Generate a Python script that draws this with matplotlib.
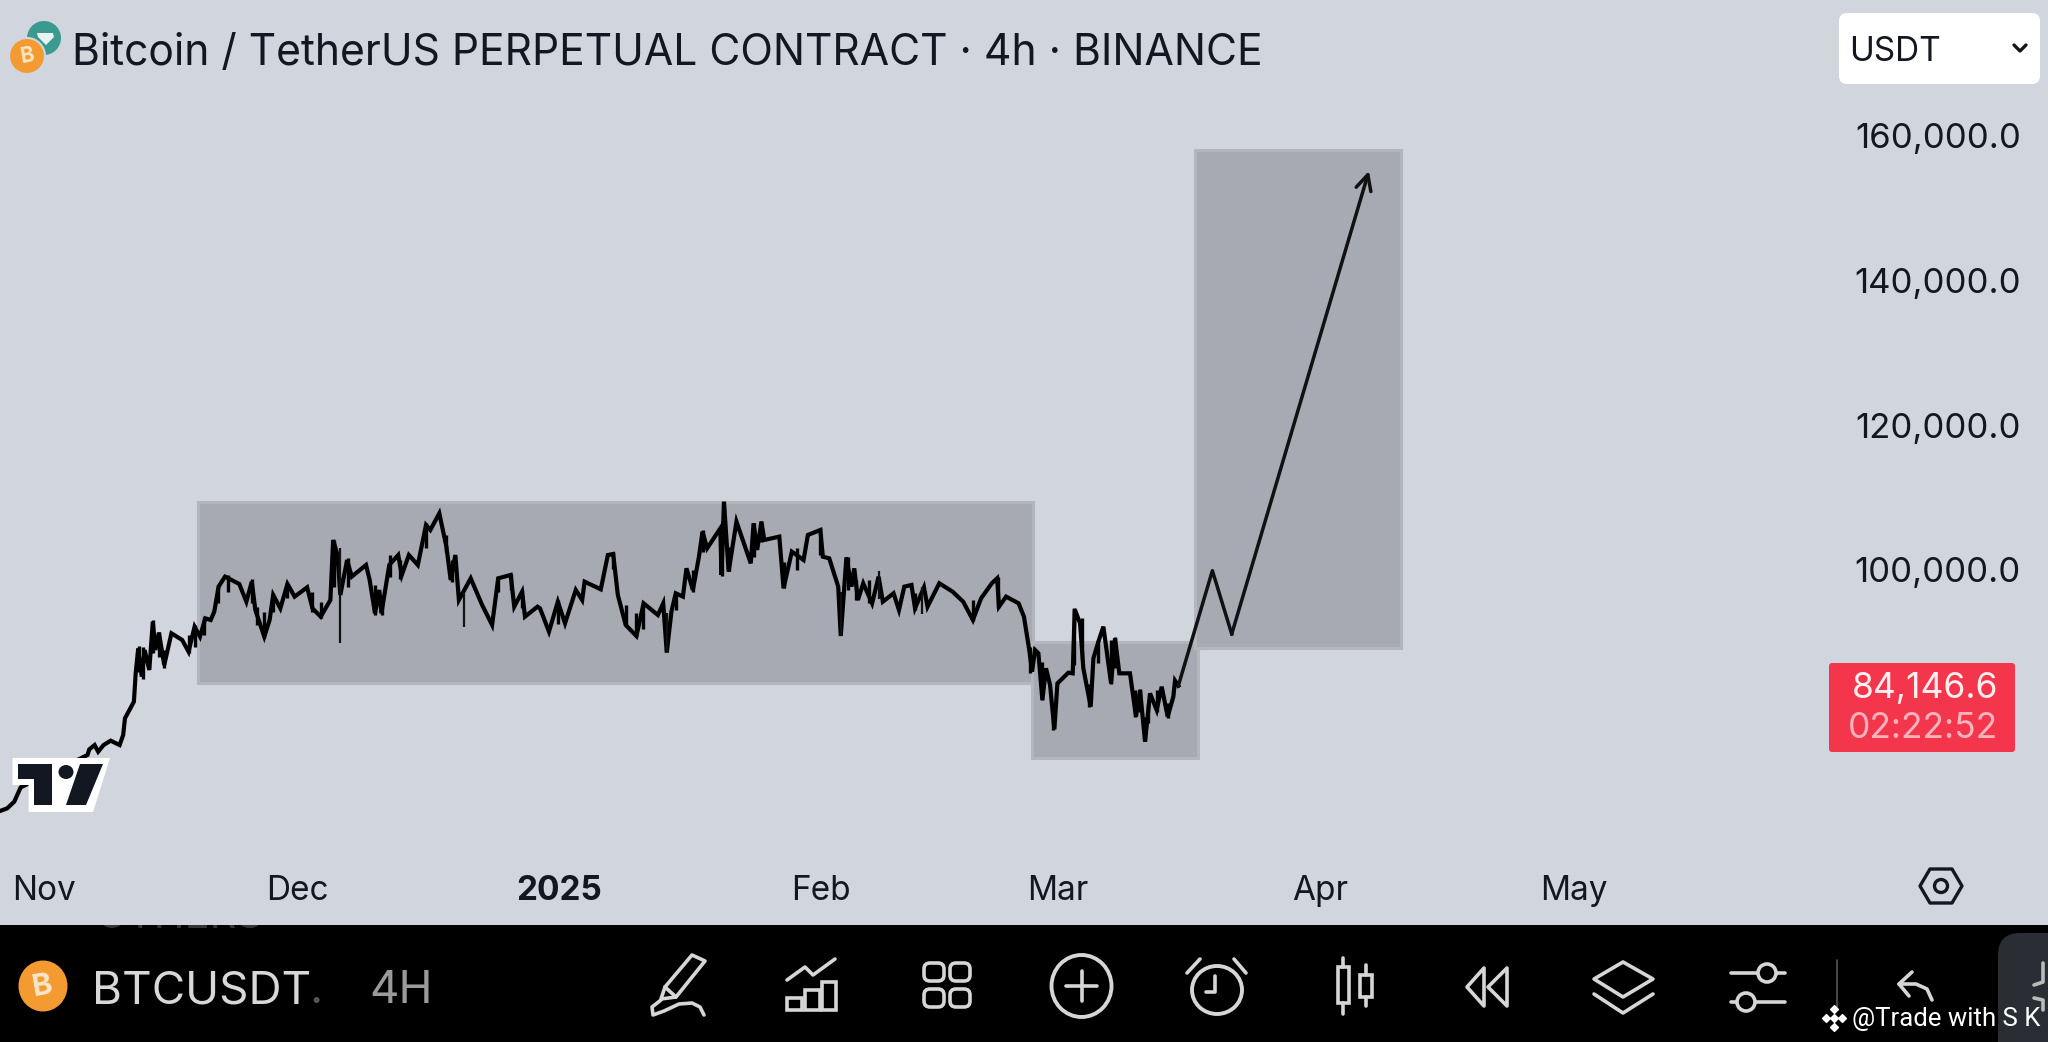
import matplotlib
matplotlib.use('Agg')
import matplotlib.pyplot as plt
from matplotlib.patches import Rectangle, Circle, Ellipse, Polygon, FancyBboxPatch

plt.rcParams['font.family'] = ['Inter', 'DejaVu Sans']

# days since 1 Nov 2024, price in thousands of USDT
days = [-5.21, -4.36, -3.52, -2.76, 5.15, 5.36, 5.99, 6.41, 7.05, 7.89, 8.95, 9.37, 9.58, 10.64, 10.85, 11.15,
        11.57, 11.91, 12.46, 12.88, 13.18, 13.60, 14.23, 15.08, 16.35, 17.11, 17.82, 18.46, 19.09, 19.73, 20.15,
        20.66, 21.42, 23.11, 23.95, 24.59, 25.01, 26.07, 26.70, 27.12, 27.97, 28.81, 29.66, 31.14, 31.77, 32.75,
        33.89, 34.22, 34.73, 35.07, 35.87, 36.42, 38.11, 38.54, 39.17, 39.68, 39.93, 40.86, 41.92, 42.34, 43.18,
        44.24, 45.21, 45.72, 46.78, 47.62, 48.13, 48.68, 49.10, 50.50, 51.85, 53.03, 53.75, 55.23, 55.65, 56.58,
        56.92, 58.40, 58.70, 59.76, 60.81, 61.66, 62.93, 63.69, 63.98, 65.89, 66.73, 67.36, 67.91, 68.84, 70.11,
        70.96, 72.65, 73.28, 73.70, 74.25, 74.76, 75.61, 76.03, 76.79, 77.51, 77.93, 78.48, 80.04, 80.17, 80.47,
        81.02, 81.95, 83.64, 83.97, 84.40, 84.90, 85.24, 87.02, 87.52, 88.50, 89.89, 90.40, 91.88, 92.17, 92.93,
        93.99, 94.29, 94.96, 95.56, 95.89, 96.32, 96.95, 98.00, 98.77, 99.27, 100.54, 101.18, 101.81, 102.66,
        103.08, 104.14, 104.56, 105.95, 107.52, 108.78, 109.93, 110.90, 112.17, 112.80, 113.01, 113.86, 115.34,
        115.97, 116.60, 116.93, 117.28, 117.68, 118.15, 118.58, 119.06, 119.57, 119.93, 121.23, 121.74, 121.98,
        122.61, 123.00, 123.87, 124.19, 124.78, 125.37, 126.28, 126.75, 127.26, 128.52, 129.23, 129.71, 130.30,
        130.89, 131.68, 132.27, 132.98, 133.65, 133.85, 134.24]
prices = [66.69, 67.06, 67.98, 69.96, 74.43, 75.21, 75.81, 74.89, 75.81, 76.41, 75.81, 77.20, 79.50, 81.80, 85.72, 89.17,
          85.26, 88.94, 86.18, 92.86, 88.94, 91.34, 86.87, 91.25, 90.33, 88.71, 92.17, 90.79, 93.32, 93.09, 94.24,
          97.70, 99.08, 98.07, 95.62, 98.39, 94.47, 90.79, 93.09, 96.55, 94.70, 98.07, 96.32, 97.60, 94.70, 93.55,
          95.85, 104.15, 102.07, 96.55, 101.38, 99.08, 100.69, 98.62, 94.01, 97.24, 94.01, 100.69, 102.07, 99.31, 102.07,
          100.69, 106.22, 105.53, 107.83, 103.23, 98.62, 102.07, 95.85, 98.85, 95.16, 92.40, 98.85, 99.31, 94.93, 97.01,
          93.55, 94.93, 94.70, 91.48, 95.62, 92.63, 97.24, 95.85, 98.39, 97.33, 102.07, 102.21, 96.55, 92.40, 90.88,
          95.39, 93.78, 95.39, 88.58, 94.24, 96.78, 96.32, 100.23, 97.24, 101.84, 105.30, 103.00, 105.76, 99.31, 109.45,
          99.77, 106.68, 100.92, 106.45, 102.77, 106.68, 104.15, 104.61, 97.47, 102.53, 101.38, 104.84, 105.53, 101.84, 101.61,
          97.70, 90.88, 101.75, 97.70, 100.23, 95.85, 98.16, 95.39, 99.08, 95.62, 96.78, 94.47, 97.70, 97.93,
          94.70, 97.60, 94.93, 98.16, 97.01, 95.62, 93.09, 96.09, 98.16, 98.85, 94.93, 96.32, 95.39,
          93.55, 88.94, 85.95, 88.94, 88.48, 82.03, 86.41, 84.11, 77.98, 84.33, 85.81, 85.72, 94.56,
          92.63, 86.41, 81.11, 87.79, 90.09, 92.17, 84.33, 90.56, 85.72, 85.72, 79.73, 83.41, 76.27,
          82.95, 80.65, 83.87, 79.73, 82.49, 84.70, 84.00]

# long thin wicks
spike_day = [35.07, 49.65, 73.70, 94.29, 98.77, 103.90]
spike_low = [89.87, 92.17, 88.6, 90.9, 96.0, 93.9]
spike_high = [103.0, 97.0, 94.0, 97.0, 99.8, 97.6]

# candle clusters that make the price line look thick
wick_day = [11.19, 11.70, 12.88, 13.60, 14.15, 17.11, 17.82, 18.97, 20.57, 21.75, 24.59, 25.22, 25.98, 27.12, 28.81,
            31.77, 32.75, 34.31, 36.00, 39.17, 40.01, 40.95, 42.13, 45.21, 47.62, 48.25, 53.75, 55.23, 56.58,
            60.81, 67.36, 68.93, 70.11, 70.87, 74.76, 76.79, 77.93, 80.25, 81.10, 83.97, 84.90, 87.52, 89.13,
            91.88, 95.13, 96.10, 97.58, 103.08, 109.93, 112.88, 116.69, 118.07, 119.45, 121.90, 122.80, 123.71,
            124.78, 126.28, 126.75, 129.12, 129.71, 130.30, 130.69, 131.68, 132.98]
wick_low = [85.95, 84.9, 88.5, 88.0, 86.4, 88.5, 89.4, 91.0, 95.4, 97.0, 95.4, 92.4, 90.6, 94.2, 96.1,
            94.2, 93.3, 97.7, 97.7, 93.8, 93.8, 99.1, 98.8, 103.0, 102.5, 98.4, 97.0, 97.2, 94.7,
            92.6, 100.2, 92.2, 90.8, 91.9, 94.5, 97.0, 102.5, 99.2, 99.8, 101.8, 103.9, 97.5, 100.0,
            102.1, 97.2, 95.9, 95.4, 94.5, 93.0, 94.7, 85.7, 82.0, 77.9, 86.9, 87.6, 81.1,
            87.1, 84.3, 86.4, 79.7, 80.4, 76.3, 78.8, 80.4, 79.6]
wick_high = [89.54, 89.4, 93.1, 91.5, 88.9, 91.0, 92.4, 93.5, 97.9, 99.3, 98.7, 94.9, 94.2, 96.8, 98.4,
             97.0, 95.6, 104.2, 101.6, 97.9, 96.5, 102.1, 101.4, 106.5, 104.8, 101.4, 99.1, 99.5, 97.2,
             95.9, 102.5, 95.2, 94.0, 95.6, 97.0, 100.0, 105.5, 106.0, 103.2, 106.5, 106.8, 101.1, 103.0,
             105.8, 101.8, 98.6, 98.6, 96.8, 95.8, 99.1, 89.4, 87.3, 81.1, 94.7, 93.3, 84.3,
             90.3, 90.3, 90.8, 83.4, 83.6, 79.7, 81.6, 83.4, 81.6]

# drawn projection
proj_day = [134.24, 138.27, 140.56, 156.8]
proj_price = [84.0, 99.91, 91.15, 155.14]

# shaded boxes: day start, day end, price low, price high
box_start = [18.22, 116.92, 136.2]
box_end = [117.0, 136.6, 160.6]
box_low = [84.38, 74.02, 89.22]
box_high = [109.40, 90.09, 158.04]

month_pos = [0, 30, 61, 92, 120, 151, 181]
month_labels = ['Nov', 'Dec', '2025', 'Feb', 'Mar', 'Apr', 'May']
price_ticks = [100, 120, 140, 160]
last_price = '84,146.6'
countdown = '02:22:52'
title = 'Bitcoin / TetherUS PERPETUAL CONTRACT · 4h · BINANCE'

BG = '#d1d5de'
BOX = '#a7aab2'
EDGE = '#b3b6bf'
ICON = '#d6d6d6'
ORANGE = '#f39a31'

fig = plt.figure(figsize=(20.48, 10.42), dpi=100, facecolor=BG)

# chart area, top 925 px of the picture
ax = fig.add_axes([0, 1 - 925 / 1042, 1, 925 / 1042], facecolor=BG)
ax.set_xlim(-5.207, 237.16)
ax.set_ylim(50.94, 178.77)
for s in ax.spines.values():
    s.set_visible(False)

for a, b, lo, hi in zip(box_start, box_end, box_low, box_high):
    ax.add_patch(Rectangle((a, lo), b - a, hi - lo, facecolor=BOX, edgecolor=EDGE, lw=2.2, zorder=1))

ax.plot(days, prices, color='black', lw=3.0, solid_joinstyle='miter', zorder=3)
ax.vlines(wick_day, wick_low, wick_high, color='black', lw=2.4, zorder=3)
ax.vlines(spike_day, spike_low, spike_high, color='#111111', lw=1.6, zorder=3)
ax.plot(proj_day[:3], proj_price[:3], color='#111111', lw=2.5, zorder=4)
ax.annotate('', xy=(proj_day[3], proj_price[3]), xytext=(proj_day[2], proj_price[2]), zorder=4,
            arrowprops=dict(arrowstyle='->,head_length=1.1,head_width=0.55', color='#111111', lw=2.5,
                            shrinkA=0, shrinkB=0))

ax.set_xticks(month_pos)
ax.set_xticklabels(month_labels, fontsize=24, color='#131722', va='top')
ax.get_xticklabels()[2].set_fontweight('bold')
ax.tick_params(axis='x', length=0, pad=-36)
ax.yaxis.tick_right()
ax.set_yticks(price_ticks)
ax.set_yticklabels([f'{v * 1000:,.0f}.0' for v in price_ticks], fontsize=25, color='#131722', ha='right')
ax.tick_params(axis='y', length=0, pad=-19.5)

# everything else is interface around the chart, laid out in picture pixels
ui = fig.add_axes([0, 0, 1, 1], facecolor='none', zorder=5)
ui.set_xlim(0, 2048)
ui.set_ylim(1042, 0)
ui.axis('off')


def line(xs, ys, color=ICON, lw=2.6):
    ui.plot(xs, ys, color=color, lw=lw, solid_capstyle='round', solid_joinstyle='round')


def outline(pts, color=ICON, lw=2.6, face='none'):
    ui.add_patch(Polygon(pts, closed=True, facecolor=face, edgecolor=color, lw=lw, joinstyle='round'))


# header
ui.add_patch(Circle((44, 38), 17, facecolor='#3a9a8f', edgecolor='none'))
ui.add_patch(Polygon([(37, 33), (53, 33), (54, 37), (46, 45), (38, 37)], facecolor='#e8f3f1', edgecolor='none'))
ui.add_patch(Circle((27, 56), 18, facecolor=ORANGE, edgecolor=BG, lw=1.5))
ui.text(27, 56, 'B', color='#fbe6c8', fontsize=15, fontweight='bold', ha='center', va='center', rotation=10)
ui.text(72, 53, title, fontsize=30.7, color='#131722', ha='left', va='center')

ui.add_patch(FancyBboxPatch((1845, 19), 189, 59, boxstyle='round,pad=6,rounding_size=8', facecolor='white',
                            edgecolor='none'))
ui.text(1849, 52, 'USDT', fontsize=24, color='#131722', ha='left', va='center')
line([2014, 2020, 2026], [45, 51, 45], color='#131722', lw=2.4)

# last price tag
ui.add_patch(FancyBboxPatch((1831, 665), 182, 85, boxstyle='round,pad=2,rounding_size=3', facecolor='#f4364c',
                            edgecolor='none'))
ui.text(1998, 689, last_price, fontsize=25.5, color='#fdeef0', ha='right', va='center')
ui.text(1998, 729, countdown, fontsize=25.5, color='#f9b3bc', ha='right', va='center')

# settings hexagon
outline([(1920, 886), (1930, 869), (1952, 869), (1962, 886), (1952, 903), (1930, 903)], color='#131722', lw=2.4)
ui.add_patch(Circle((1941, 886), 6.5, facecolor='none', edgecolor='#131722', lw=2.4))

# tradingview logo
outline([(12.5, 758), (110, 758), (93, 812), (28.6, 812), (28.6, 785), (12.5, 785)], color='white', lw=0, face='white')
outline([(18, 764), (52, 764), (52, 805), (34, 805), (34, 779), (18, 779)], color='#131722', lw=0, face='#131722')
ui.add_patch(Ellipse((66, 772), 15, 14, facecolor='#131722', edgecolor='none'))
outline([(80, 764), (103, 764), (86, 805), (66, 805)], color='#131722', lw=0, face='#131722')

# bottom toolbar
bar = Rectangle((0, 925), 2048, 117, facecolor='black', edgecolor='none')
ui.add_patch(bar)
t = ui.text(95, 917, 'OTHERS', fontsize=30, color='#333333', ha='left', va='center', clip_on=True)
t.set_clip_path(bar)
t = ui.text(95, 1062, 'TETHUSDT', fontsize=30, color='#333333', ha='left', va='center', clip_on=True)
t.set_clip_path(bar)

ui.add_patch(Ellipse((43, 986), 49, 51, facecolor=ORANGE, edgecolor='none'))
ui.text(43, 986, 'B', color='#fbe6c8', fontsize=22, fontweight='bold', ha='center', va='center', rotation=10)
ui.text(92, 991, 'BTCUSDT', fontsize=33, color='#d8d8d8', ha='left', va='center')
ui.text(309, 991, '.', fontsize=33, color='#555555', ha='left', va='center')
ui.text(369, 991, '4H', fontsize=33, color='#9a9a9a', ha='left', va='center')

# pencil
outline([(692, 955), (705, 961), (676, 997), (661, 999), (665, 987)])
line([665, 676], [987, 997])
line([661, 652, 653, 664, 679, 692, 700, 704], [1000, 1007, 1015, 1011, 1004, 1003, 1007, 1015])
# indicators
line([787, 805, 813, 835], [980, 967, 975, 959])
for x0, w, y0 in [(787, 15, 998), (805, 15, 990), (822, 14, 982)]:
    ui.add_patch(Rectangle((x0, y0), w, 1010 - y0, facecolor='none', edgecolor=ICON, lw=2.6))
# layouts
for x0, y0 in [(926, 965), (952, 965), (926, 991), (952, 991)]:
    ui.add_patch(FancyBboxPatch((x0, y0), 16, 14, boxstyle='round,pad=2,rounding_size=6', facecolor='none',
                                edgecolor=ICON, lw=2.6))
# plus
ui.add_patch(Ellipse((1081.5, 986), 60, 62, facecolor='none', edgecolor=ICON, lw=2.8))
line([1066, 1097], [986, 986])
line([1081.5, 1081.5], [971, 1001])
# alarm
ui.add_patch(Ellipse((1217, 990), 50, 48, facecolor='none', edgecolor=ICON, lw=2.8))
line([1215, 1215, 1206], [976, 992, 992])
line([1187, 1200], [973, 959])
line([1246, 1234], [973, 959])
# candles
ui.add_patch(Rectangle((1337.5, 967), 11.5, 36, facecolor='none', edgecolor=ICON, lw=2.6))
line([1343, 1343], [958, 967])
line([1343, 1343], [1003, 1014])
ui.add_patch(Rectangle((1360, 975), 11.5, 22, facecolor='none', edgecolor=ICON, lw=2.6))
line([1366, 1366], [965, 975])
line([1366, 1366], [997, 1006])
# replay
outline([(1467, 987), (1484, 968), (1484, 1006)])
outline([(1488, 987), (1507, 968), (1507, 1006)])
# layers
outline([(1623, 962), (1653, 979), (1623, 997), (1594, 979)])
line([1594, 1623, 1653], [994, 1013, 994])
# sliders
line([1731, 1785], [973, 973])
ui.add_patch(Circle((1767, 973), 9, facecolor='black', edgecolor=ICON, lw=2.6, zorder=3))
line([1731, 1785], [1002, 1002])
ui.add_patch(Circle((1746, 1002), 9, facecolor='black', edgecolor=ICON, lw=2.6, zorder=3))
line([1837, 1837], [960, 1007], color='#555555', lw=1.2)
# undo
line([1912, 1899, 1909], [972, 984, 996])
line([1899, 1916, 1927, 1932], [984, 984, 989, 1000])

# right panel and watermark
ui.add_patch(FancyBboxPatch((2020, 955), 60, 120, boxstyle='round,pad=22,rounding_size=22', facecolor='#2a2d33',
                            edgecolor='none'))
line([2043, 2043, 2034], [963, 982, 985], color='#bbbbbb')
line([2034, 2043, 2043], [998, 1000, 1010], color='#bbbbbb')
ui.scatter([1834, 1826, 1842, 1834, 1834], [1018, 1018, 1018, 1009, 1027], marker='D', s=16, color='white', zorder=4)
ui.text(1852, 1019, '@Trade with S K', fontsize=18.5, color='white', family='Roboto', ha='left', va='center', zorder=4)

fig.savefig('out.png', dpi=100, facecolor=BG)
